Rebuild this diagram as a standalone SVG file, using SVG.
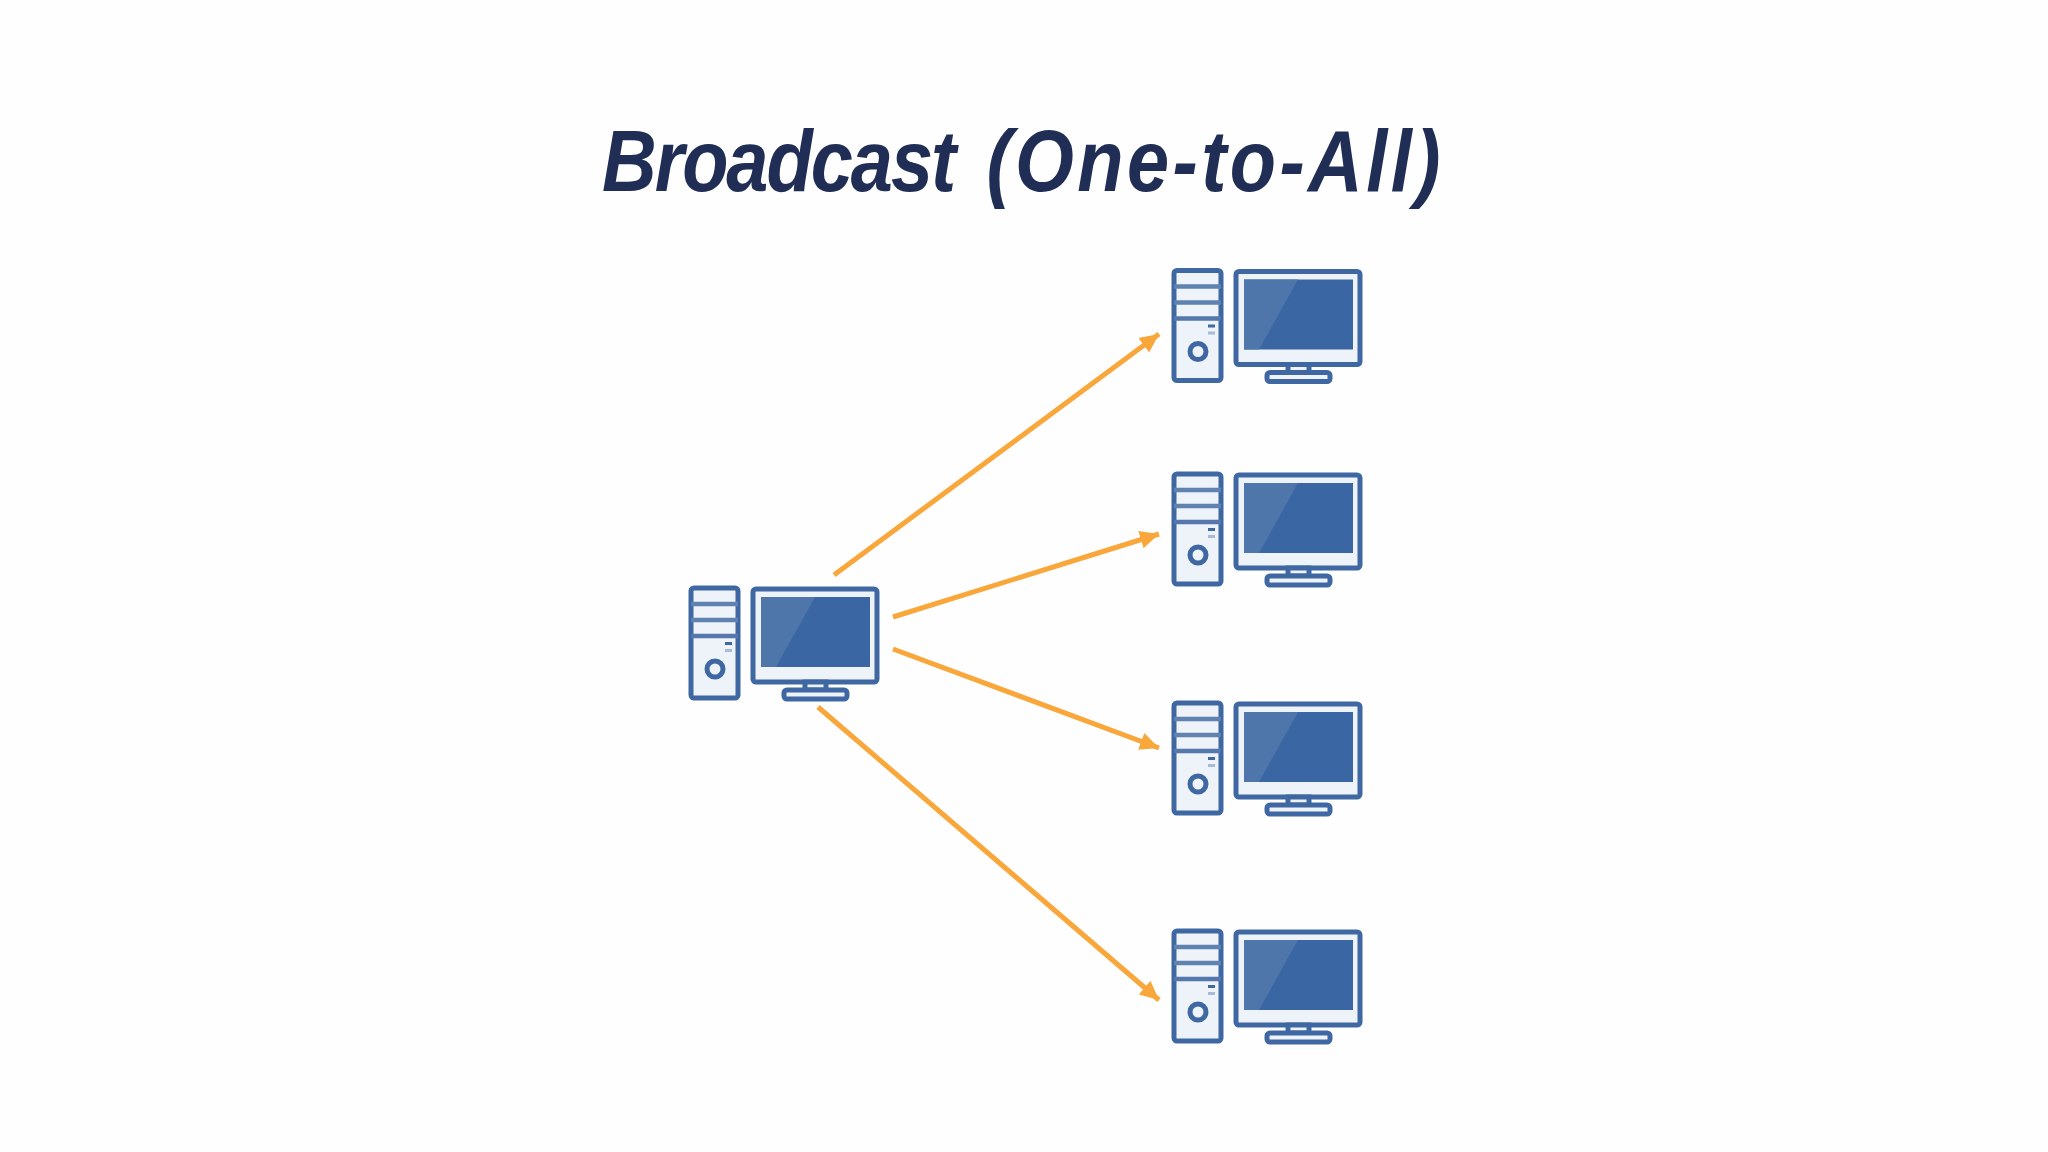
<svg xmlns="http://www.w3.org/2000/svg" width="2048" height="1152" viewBox="0 0 2048 1152">
<style>
.title{font-family:"Liberation Sans","DejaVu Sans",sans-serif;font-weight:700;font-style:italic;font-size:88px;fill:#202d55}
.o{fill:none;stroke:#5478ab;stroke-width:4.500}
.f{fill:#eef2f9;stroke:#3f68a3;stroke-width:5}
.b{fill:none;stroke:#5f82b0;stroke-width:4.500}
.arrow{stroke:#f9a73a;stroke-width:5;fill:none;marker-end:url(#ah)}
</style>
<defs>
<marker id="ah" markerUnits="userSpaceOnUse" markerWidth="20" markerHeight="20" refX="19" refY="10" orient="auto" viewBox="0 0 20 20"><path d="M0 1L19 10L0 19Z" fill="#f9a73a"/></marker>
<g id="pc">
<rect class="f" x="691" y="588" width="47" height="110" rx="3"/>
<path class="b" d="M691 604H738M691 620H738"/>
<path class="o" d="M691 636H738"/>
<rect x="725" y="642" width="7" height="3" fill="#3f68a3"/>
<rect x="725" y="649" width="7" height="3" fill="#a9bbd4"/>
<circle cx="715" cy="669" r="8" fill="#eef2f9" stroke="#3f68a3" stroke-width="5"/>
<rect class="f" x="753" y="589" width="124" height="93" rx="3"/>
<rect x="761" y="597" width="109" height="70" fill="#3a66a3"/>
<path d="M761 597H815L776 667H761Z" fill="#4e76ab"/>
<rect class="f" x="805" y="682" width="21" height="8"/>
<rect class="f" x="784" y="690" width="63" height="9" rx="3"/>
</g>
</defs>
<rect width="2048" height="1152" fill="#fefefe"/>
<text class="title" transform="scale(.86 1)" y="191"><tspan x="700" letter-spacing="-2.300">Broadcast </tspan><tspan x="1147" letter-spacing="4">(One-to-All)</tspan></text>
<g id="connectors">
<path class="arrow" d="M834 575L1159 334"/>
<path class="arrow" d="M893 617L1159 534"/>
<path class="arrow" d="M893 649L1159 748"/>
<path class="arrow" d="M818 707L1159 1000"/>
</g>
<g id="source"><use href="#pc"/></g>
<g id="target1"><use href="#pc" x="483" y="-317.500"/></g>
<g id="target2"><use href="#pc" x="483" y="-114"/></g>
<g id="target3"><use href="#pc" x="483" y="115"/></g>
<g id="target4"><use href="#pc" x="483" y="343"/></g>
</svg>
